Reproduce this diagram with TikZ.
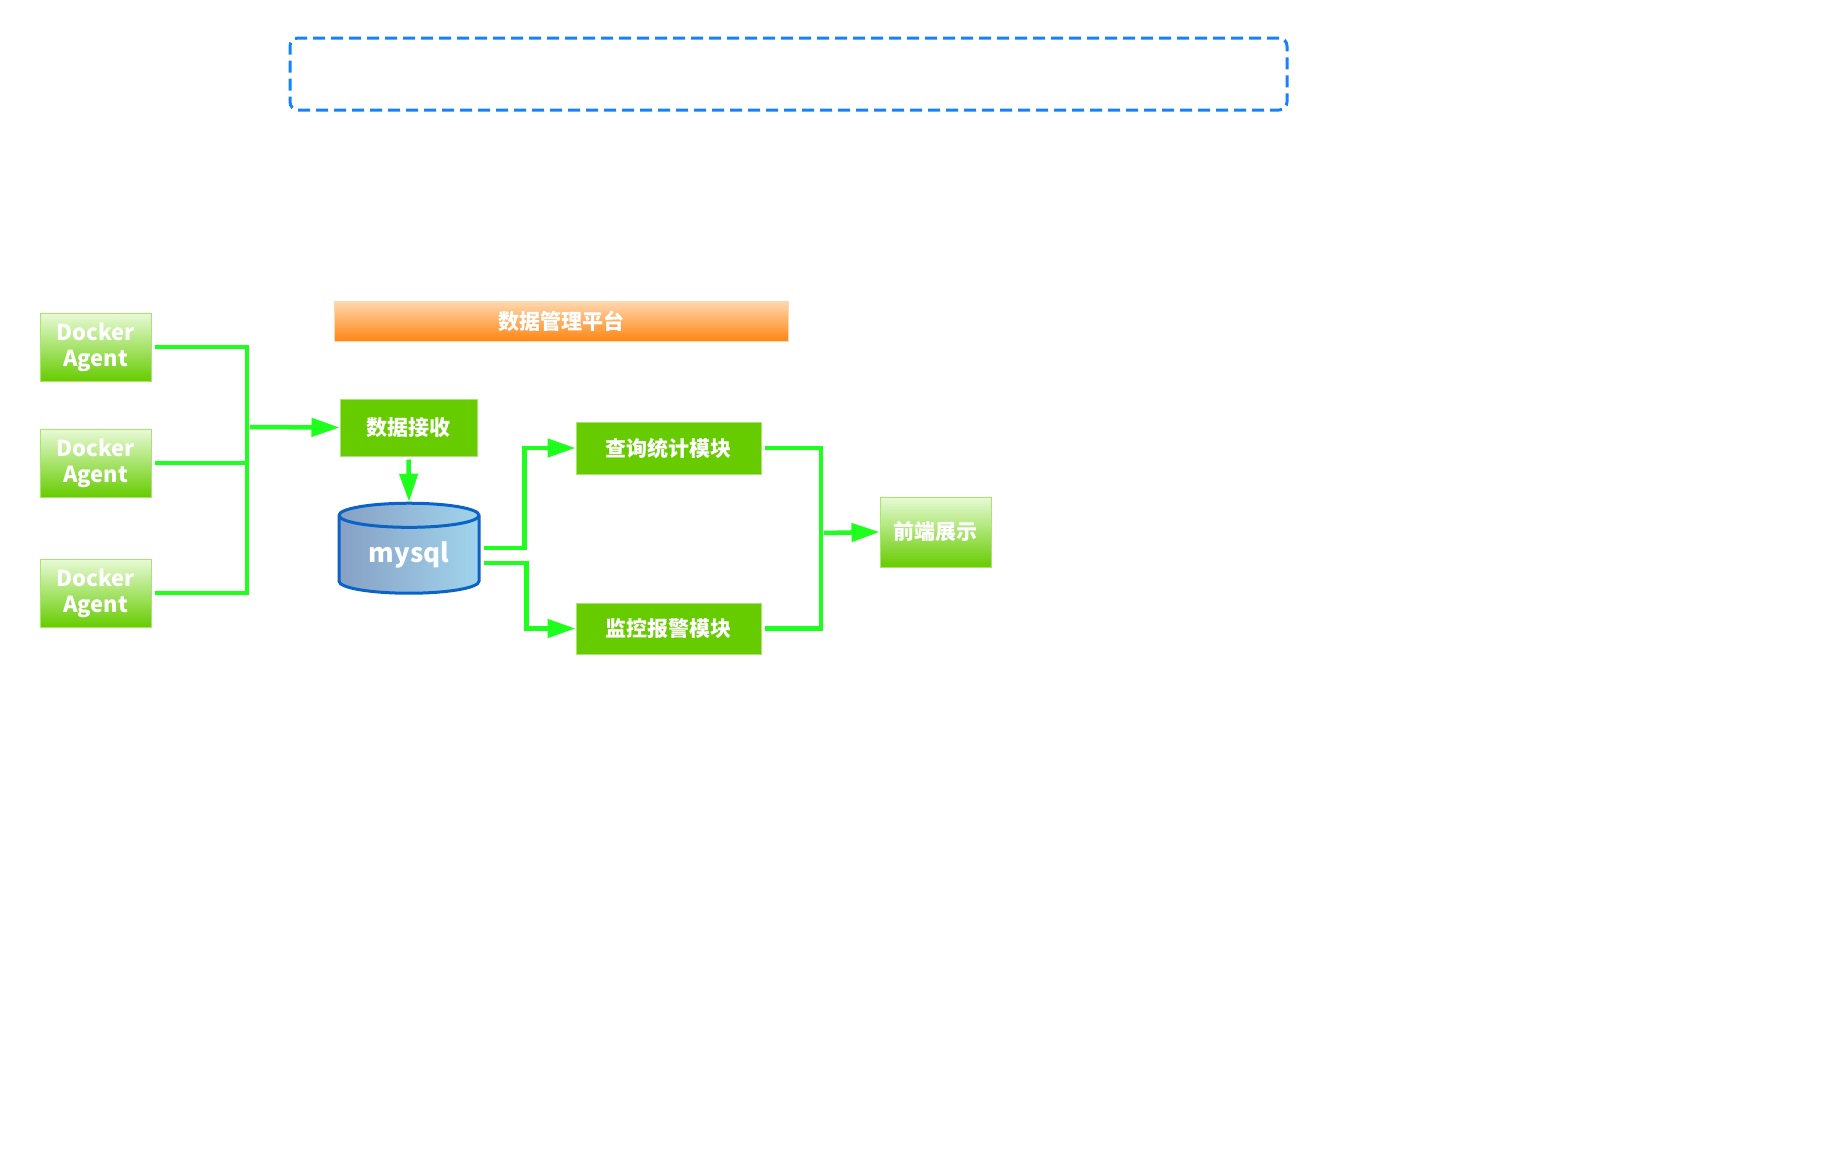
\documentclass[tikz,border=0pt]{standalone}
\usepackage{fontspec}
\setmainfont{Noto Sans CJK SC}
\usetikzlibrary{arrows.meta,shapes.geometric}
\definecolor{boxgreen}{RGB}{102,204,0}
\definecolor{agenttop}{RGB}{232,250,214}
\definecolor{linkgreen}{RGB}{30,255,30}
\definecolor{orangetop}{RGB}{255,216,176}
\definecolor{orangebot}{RGB}{255,134,20}
\definecolor{dashblue}{RGB}{20,130,255}
\definecolor{dbleft}{RGB}{135,160,196}
\definecolor{dbright}{RGB}{160,212,236}
\definecolor{dbedge}{RGB}{10,100,200}
\begin{document}
\begin{tikzpicture}[x=1pt, y=-1pt,
  box/.style={fill=boxgreen, draw=boxgreen!55!white, line width=1pt, text=white, inner sep=0pt,
    font=\bfseries\fontsize{21pt}{26pt}\selectfont},
  agent/.style={box, top color=agenttop, bottom color=boxgreen, minimum width=111pt, minimum height=68pt,
    align=center, font=\bfseries\fontsize{22pt}{26pt}\selectfont},
  link/.style={draw=linkgreen, line width=4.5pt, shorten <=3pt},
  flow/.style={link, -{Triangle[length=28pt, width=18pt]}},
]
  \useasboundingbox (0,0) rectangle (1844,1152);

  % 顶部虚线框
  \node[draw=dashblue, line width=3pt, dash pattern=on 12pt off 6pt, rounded corners=8pt,
    minimum width=997pt, minimum height=72pt] (frame) at (788.5,74) {};

  % 平台标题
  \node[box, draw=orangetop, top color=orangetop, bottom color=orangebot, minimum width=454pt, minimum height=40pt]
    (platform) at (561,321) {数据管理平台};

  % Docker Agent
  \foreach \i/\y in {1/347, 2/463, 3/593} {
    \node[agent] (ag\i) at (95.5,\y) {Docker\\Agent};
  }

  \node[box, minimum width=137pt, minimum height=57pt] (recv) at (408.5,427.5) {数据接收};
  \node[cylinder, shape border rotate=90, aspect=0.3, draw=dbedge, line width=3pt,
    left color=dbleft, right color=dbright, minimum width=140pt, minimum height=90pt, inner sep=0pt,
    text=white, font=\bfseries\fontsize{26pt}{30pt}\selectfont] (db) at (409,555) {mysql};
  \node[box, minimum width=185pt, minimum height=52pt] (query) at (668.5,448) {查询统计模块};
  \node[box, minimum width=185pt, minimum height=51pt] (alarm) at (668.5,628.5) {监控报警模块};
  \node[agent, minimum width=111pt, minimum height=70pt, font=\bfseries\fontsize{21pt}{26pt}\selectfont]
    (front) at (935.5,532) {前端展示};

  % 汇聚连线
  \coordinate (bus) at (247,427);
  \draw[link, shorten >=3pt] (ag1.east) -| (bus |- ag3.east) -- (ag3.east);
  \draw[link] (ag2.east) -- (bus |- ag2.east);
  \draw[flow] (bus) -- (recv.west);
  \draw[flow] (recv.south) -- (db.north);

  \draw[flow] ([yshift=7pt]db.east) -- ++(44,0) |- (query.west);
  \draw[flow] ([yshift=-8pt]db.east) -- ++(46,0) |- (alarm.west);

  \coordinate (join) at (821,533);
  \draw[link, shorten >=3pt] (query.east) -| (join |- alarm.east) -- (alarm.east);
  \draw[flow] (join) -- (front.west);
\end{tikzpicture}
\end{document}
